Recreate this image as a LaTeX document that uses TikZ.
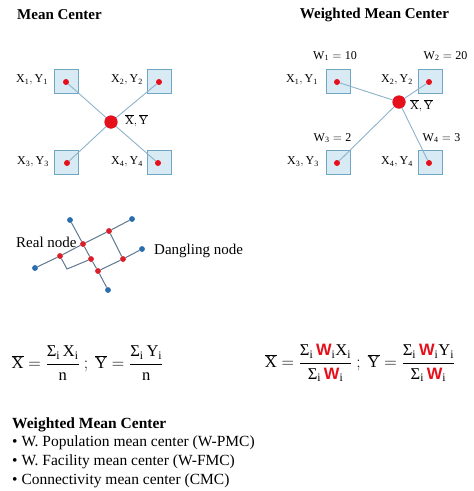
\documentclass[tikz,border=0pt]{standalone}
\usepackage{fontspec}
\setmainfont{Liberation Serif}
\newfontfamily\wfont{Liberation Sans}
\definecolor{boxf}{HTML}{D8EBF4}
\definecolor{boxc}{HTML}{6FA6C2}
\definecolor{linkc}{HTML}{8DB2C9}
\definecolor{dred}{HTML}{E5101B}
\definecolor{netc}{HTML}{5E7891}
\definecolor{nblue}{HTML}{2B6EAE}
\definecolor{nred}{HTML}{D8202B}
\newcommand{\wred}{\mbox{\wfont\bfseries\color{dred}W}}
\newcommand{\sg}{\mbox{Σ}}
\begin{document}
\begin{tikzpicture}[x=1pt,y=-1pt,
  box/.style={draw=boxc, fill=boxf, minimum size=24pt, inner sep=0pt, line width=0.8pt},
  rdot/.style={circle, fill=dred, inner sep=0pt, minimum size=6pt},
  bigdot/.style={circle, fill=dred, inner sep=0pt, minimum size=13pt},
  lbl/.style={font=\fontsize{12}{14}\selectfont, inner sep=1pt},
  title/.style={font=\fontsize{15}{18}\selectfont\bfseries, inner sep=0pt},
  link/.style={draw=linkc, line width=0.9pt},
  net/.style={draw=netc, line width=1pt},
  bn/.style={circle, fill=nblue, inner sep=0pt, minimum size=5.5pt},
  rn/.style={circle, fill=nred, inner sep=0pt, minimum size=5.5pt},
  netlbl/.style={font=\fontsize{15}{17}\selectfont, inner sep=0pt},
  formula/.style={font=\fontsize{16.5}{19}\selectfont, inner sep=0pt},
  ]
\useasboundingbox (0,0) rectangle (474,491);
% ---------- Mean Center ----------
\node[title, anchor=west] (t1) at (17,15) {Mean Center};
\node[box] (b1) at (66.5,81.5) {};
\node[box] (b2) at (159.5,81.5) {};
\node[box] (b3) at (66.5,162) {};
\node[box] (b4) at (159.5,162) {};
\node[rdot] (d1) at (66,82) {};
\node[rdot] (d2) at (159,82) {};
\node[rdot] (d3) at (67,163) {};
\node[rdot] (d4) at (158,163) {};
\node[bigdot] (c) at (111,122) {};
\draw[link] (d1) -- (c) -- (d4);
\draw[link] (d2) -- (c) -- (d3);
\node[bigdot] at (c) {};
\node[lbl, anchor=east] (l1) at (49,80) {$\mathrm{X_1, Y_1}$};
\node[lbl, anchor=east] (l2) at (144,80) {$\mathrm{X_2, Y_2}$};
\node[lbl, anchor=east] (l3) at (50,162) {$\mathrm{X_3, Y_3}$};
\node[lbl, anchor=east] (l4) at (144,162) {$\mathrm{X_4, Y_4}$};
\node[lbl, anchor=west] (lc) at (124,121) {$\overline{\mathrm{X}},\overline{\mathrm{Y}}$};
% ---------- Weighted Mean Center ----------
\node[title] (t2) at (374.5,15) {Weighted Mean Center};
\node[box] (e1) at (338,81.5) {};
\node[box] (e2) at (430.5,81.5) {};
\node[box] (e3) at (338,162) {};
\node[box] (e4) at (430.5,162) {};
\node[rdot] (f1) at (337,82) {};
\node[rdot] (f2) at (429,82) {};
\node[rdot] (f3) at (337,163) {};
\node[rdot] (f4) at (429,163) {};
\node[bigdot] (wc) at (399,102) {};
\draw[link] (wc) -- (f1);
\draw[link] (wc) -- (f2);
\draw[link] (wc) -- (f3);
\draw[link] (wc) -- (f4);
\node[bigdot] at (wc) {};
\node[lbl] (w1) at (335,56) {$\mathrm{W_1 = 10}$};
\node[lbl] (w2) at (445.5,56) {$\mathrm{W_2 = 20}$};
\node[lbl] (w3) at (332.5,138) {$\mathrm{W_3 = 2}$};
\node[lbl] (w4) at (441.5,138) {$\mathrm{W_4 = 3}$};
\node[lbl, anchor=east] (m1) at (319,80) {$\mathrm{X_1, Y_1}$};
\node[lbl, anchor=east] (m2) at (414,80) {$\mathrm{X_2, Y_2}$};
\node[lbl, anchor=east] (m3) at (320,162) {$\mathrm{X_3, Y_3}$};
\node[lbl, anchor=east] (m4) at (414,162) {$\mathrm{X_4, Y_4}$};
\node[lbl, anchor=west] (mc) at (409,106) {$\overline{\mathrm{X}},\overline{\mathrm{Y}}$};
% ---------- Network ----------
\node[bn] (B1) at (70,220) {};
\node[bn] (B2) at (132,219) {};
\node[bn] (B3) at (142,249) {};
\node[bn] (B4) at (35,268) {};
\node[bn] (B5) at (108,290) {};
\node[rn] (R1) at (83,244) {};
\node[rn] (R2) at (109,231) {};
\node[rn] (R3) at (60,256) {};
\node[rn] (R4) at (91,259) {};
\node[rn] (R5) at (123,259) {};
\node[rn] (R6) at (98,271) {};
\coordinate (K) at (67,269);
\draw[net] (B4) -- (R3) -- (R1) -- (R2) -- (B2);
\draw[net] (B1) -- (R1) -- (R4) -- (R6) -- (B5);
\draw[net] (R2) -- (R5) -- (B3);
\draw[net] (R6) -- (R5);
\draw[net] (R3) -- (K) -- (R4);
\foreach \n in {B1,B2,B3,B4,B5} \node[bn] at (\n) {};
\foreach \n in {R1,R2,R3,R4,R5,R6} \node[rn] at (\n) {};
\node[netlbl, anchor=west] (rl) at (16,242) {Real node};
\node[netlbl, anchor=west] (dl) at (154,251) {Dangling node};
% ---------- Formulas ----------
\node[formula] (f1x) at (87.5,363) {$\displaystyle \overline{\mathrm{X}} = \frac{\sg_{\mathrm{i}}\,\mathrm{X_i}}{\mathrm{n}}\ ;\ \overline{\mathrm{Y}} = \frac{\sg_{\mathrm{i}}\,\mathrm{Y_i}}{\mathrm{n}}$};
\node[formula] (f2x) at (360,363) {$\displaystyle \overline{\mathrm{X}} = \frac{\sg_{\mathrm{i}}\,\wred_{\mathrm{i}}\mathrm{X_i}}{\sg_{\mathrm{i}}\,\wred_{\mathrm{i}}}\ ;\ \overline{\mathrm{Y}} = \frac{\sg_{\mathrm{i}}\,\wred_{\mathrm{i}}\mathrm{Y_i}}{\sg_{\mathrm{i}}\,\wred_{\mathrm{i}}}$};
% ---------- Bottom list ----------
\node[title, font=\fontsize{15.5}{18}\selectfont\bfseries, anchor=west] (t3) at (12,425) {Weighted Mean Center};
\node[anchor=north west, inner sep=0pt, align=left, font=\fontsize{15.5}{19}\selectfont] (lst) at (12,436) {• W. Population mean center (W-PMC)\\• W. Facility mean center (W-FMC)\\• Connectivity mean center (CMC)};
\end{tikzpicture}
\end{document}
